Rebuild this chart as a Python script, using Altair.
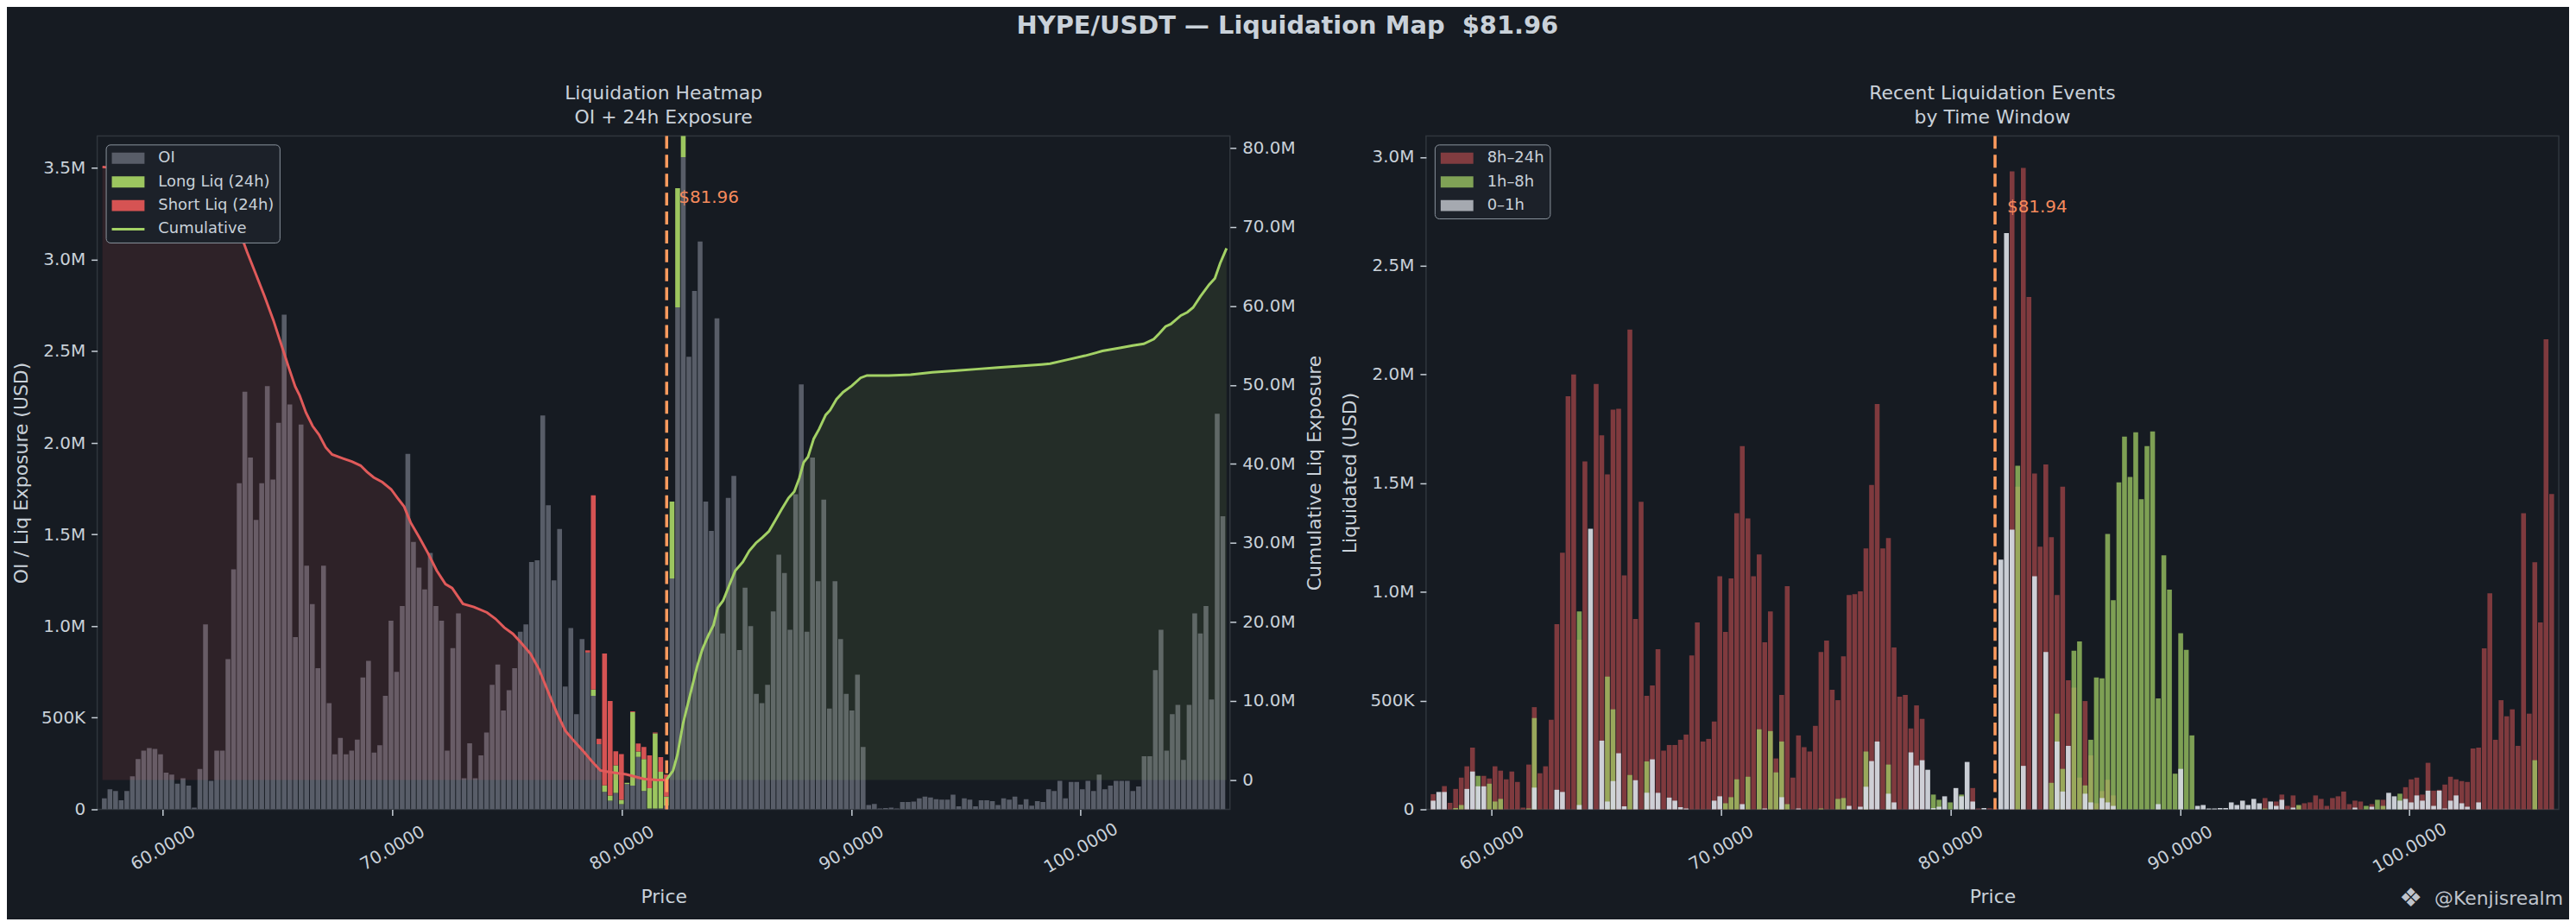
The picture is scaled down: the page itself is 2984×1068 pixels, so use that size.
import altair as alt
import pandas as pd

# ---------------- data ----------------
PRICE_LO, PRICE_HI, N_BINS = 57.33, 106.32, 200
BIN_W = (PRICE_HI - PRICE_LO) / N_BINS
BIN_PRICE = [round(PRICE_LO + BIN_W * (i + 0.5), 4) for i in range(N_BINS)]

PRICE_LEFT = 81.96
PRICE_RIGHT = 81.94

# Left panel: open interest per price bin (millions USD)
OI_M = [
    0.06, 0.11, 0.10, 0.05, 0.10, 0.18, 0.275, 0.32, 0.335, 0.33,
    0.30, 0.20, 0.19, 0.14, 0.17, 0.13, 0.01, 0.22, 1.01, 0.155,
    0.32, 0.32, 0.82, 1.31, 1.78, 2.28, 1.92, 1.58, 1.78, 2.31,
    1.80, 2.11, 2.70, 2.21, 0.94, 2.10, 1.33, 1.12, 0.77, 1.33,
    0.58, 0.30, 0.39, 0.30, 0.32, 0.38, 0.72, 0.81, 0.31, 0.35,
    0.62, 1.03, 0.75, 1.11, 1.94, 1.46, 1.32, 1.20, 1.40, 1.11,
    1.03, 0.32, 0.88, 1.07, 0.17, 0.36, 0.17, 0.295, 0.42, 0.68,
    0.79, 0.54, 0.65, 0.77, 0.97, 1.01, 1.35, 1.36, 2.15, 1.66,
    1.25, 1.53, 0.67, 0.99, 0.52, 0.93, 0.856, 0.62, 0.356, 0.095,
    0.047, 0.09, 0.028, 0.138, 0.13, 0.286, 0.10, 0.005, 0.005, 0.005,
    0.02, 1.26, 2.74, 3.56, 2.47, 2.83, 3.10, 1.68, 1.52, 2.68,
    0.96, 1.70, 1.82, 0.87, 1.21, 1.00, 0.63, 0.58, 0.68, 1.08,
    1.39, 1.29, 0.98, 1.72, 2.32, 0.97, 1.92, 1.245, 1.69, 0.55,
    1.245, 0.93, 0.63, 0.54, 0.735, 0.34, 0.024, 0.03, 0.005, 0.007,
    0.01, 0.005, 0.04, 0.04, 0.043, 0.06, 0.07, 0.065, 0.055, 0.053,
    0.053, 0.08, 0.017, 0.06, 0.053, 0.017, 0.05, 0.05, 0.045, 0.024,
    0.06, 0.053, 0.07, 0.026, 0.055, 0.02, 0.045, 0.04, 0.11, 0.10,
    0.156, 0.06, 0.15, 0.15, 0.11, 0.156, 0.10, 0.19, 0.11, 0.13,
    0.156, 0.156, 0.156, 0.10, 0.125, 0.29, 0.29, 0.76, 0.98, 0.32,
    0.52, 0.57, 0.27, 0.57, 1.07, 0.96, 1.11, 0.60, 2.16, 1.60,
]
LONG_BINS = [87, 89, 90, 91, 92, 93, 94, 95, 96, 97, 98, 99, 100, 101, 102, 103]
LONG_M = [0.034, 0.036, 0.029, 0.15, 0.024, 0.007, 0.40, 0.03, 0.175, 0.11, 0.41, 0.20, 0.05, 0.42, 0.65, 0.30]
SHORT_BINS = [86, 87, 88, 89, 90, 91, 92, 94, 95, 96, 97, 98, 99, 100]
SHORT_M = [0.012, 1.06, 0.029, 0.72, 0.515, 0.077, 0.25, 0.005, 0.043, 0.065, 0.18, 0.005, 0.08, 0.12]

SHORT_CUM_PRICE = [57.37, 58.17, 58.64, 59.12, 59.50, 60.07, 60.64, 61.21, 61.59, 61.87, 62.16, 62.63,
                   63.01, 63.40, 63.68, 64.06, 64.44, 64.82, 65.20, 65.48, 65.77, 65.96, 66.24, 66.53,
                   66.81, 67.10, 67.38, 67.86, 68.24, 68.62, 68.90, 69.19, 69.57, 69.95, 70.23, 70.52,
                   70.80, 71.18, 71.56, 71.94, 72.32, 72.61, 73.08, 73.56, 74.13, 74.50, 74.88, 75.26,
                   75.64, 76.02, 76.40, 76.79, 77.17, 77.55, 77.93, 78.31, 78.69, 79.07, 79.45, 80.20,
                   80.96, 81.53, 81.91]
SHORT_CUM_M = [77.6, 77.4, 77.0, 76.5, 76.1, 75.4, 74.9, 74.5, 74.4, 73.9, 73.2, 72.7,
               71.8, 69.0, 66.8, 64.0, 61.2, 58.2, 54.8, 52.3, 49.8, 48.7, 46.5, 44.8,
               43.7, 42.1, 41.2, 40.7, 40.3, 39.8, 39.0, 38.3, 37.7, 36.8, 35.7, 34.6,
               32.6, 30.7, 28.7, 26.5, 24.8, 24.3, 22.3, 21.9, 21.2, 20.4, 19.3, 18.5,
               17.3, 16.0, 14.0, 11.2, 8.5, 6.2, 4.9, 3.7, 2.4, 1.2, 1.0, 0.7,
               0.13, 0.0, 0.0]
LONG_CUM_PRICE = [81.95, 82.24, 82.43, 82.67, 83.00, 83.28, 83.51, 83.76, 84.00, 84.19, 84.42, 84.71,
                  84.95, 85.28, 85.56, 85.85, 86.13, 86.42, 86.70, 86.98, 87.27, 87.52, 87.74, 87.93,
                  88.12, 88.37, 88.60, 88.89, 89.08, 89.36, 89.65, 90.03, 90.41, 90.69, 91.64, 92.59,
                  93.54, 94.49, 95.44, 96.39, 97.34, 98.29, 98.67, 99.43, 100.19, 100.95, 101.71, 102.27,
                  102.75, 103.19, 103.42, 103.70, 103.93, 104.37, 104.65, 104.90, 105.22, 105.60, 105.85,
                  106.08, 106.36]
LONG_CUM_M = [0.0, 1.2, 3.2, 7.1, 11.0, 14.3, 16.5, 18.2, 19.6, 21.8, 22.7, 24.8,
              26.5, 27.6, 29.0, 30.0, 30.7, 31.5, 32.9, 34.3, 35.7, 36.5, 38.2, 40.2,
              40.9, 43.2, 44.4, 46.2, 46.8, 48.2, 49.1, 49.9, 50.9, 51.2, 51.2, 51.3,
              51.6, 51.8, 52.0, 52.2, 52.4, 52.6, 52.7, 53.2, 53.7, 54.3, 54.7, 55.0,
              55.2, 55.8, 56.5, 57.4, 57.7, 58.8, 59.2, 59.8, 61.2, 62.7, 63.5, 65.4, 67.3]

# Right panel: liquidated per bin by time window (millions USD)
R_8_24_M = [
    0.07, 0, 0.107, 0.03, 0.094, 0.146, 0.198, 0.284, 0, 0.154,
    0.142, 0.198, 0.178, 0.138, 0.174, 0.126, 0.008, 0.206, 0.470, 0.166,
    0.198, 0.412, 0.852, 1.180, 1.900, 2.000, 0.780, 1.600, 0, 1.956,
    1.720, 1.540, 1.838, 1.842, 1.076, 2.206, 0.875, 1.414, 0.522, 0.570,
    0.736, 0.270, 0.296, 0.296, 0.320, 0.344, 0.708, 0.860, 0.312, 0.324,
    0.404, 1.072, 0.816, 1.062, 1.362, 1.670, 1.338, 1.072, 1.172, 0.768,
    0.910, 0.234, 0.526, 1.026, 0.146, 0.340, 0.286, 0.266, 0.384, 0.724,
    0.776, 0.550, 0.502, 0.704, 0.986, 0.990, 1.002, 1.200, 1.492, 1.864,
    1.200, 1.248, 0.744, 0.518, 0.526, 0.372, 0.478, 0.416, 0, 0,
    0, 0, 0, 0, 0, 0, 0.098, 0.004, 0, 0.005,
    0.004, 0, 0, 2.934, 1.484, 2.950, 2.356, 1.544, 1.208, 1.586,
    1.252, 0.986, 1.484, 0.594, 0.560, 0.146, 0.498, 0.248, 0.028, 0.084,
    0.136, 0.064, 0, 0, 0, 0, 0, 0, 0, 0,
    0, 0, 0, 0, 0, 0, 0, 0, 0, 0,
    0, 0, 0, 0, 0, 0, 0, 0, 0.052, 0,
    0.036, 0.068, 0.016, 0.064, 0.016, 0.028, 0.032, 0.064, 0.048, 0.016,
    0.052, 0.060, 0.082, 0.024, 0.040, 0.036, 0, 0.024, 0, 0.044,
    0, 0, 0, 0.102, 0.138, 0.146, 0.068, 0.214, 0.086, 0.090,
    0.114, 0.150, 0.138, 0.130, 0.126, 0.280, 0.284, 0.740, 0.994, 0.320,
    0.502, 0.428, 0.460, 0.292, 1.362, 0.440, 1.136, 0.860, 2.162, 1.450,
]
G_1_8_M = [
    0, 0, 0, 0, 0.006, 0.02, 0, 0, 0.154, 0,
    0.118, 0.036, 0.048, 0, 0, 0, 0, 0.004, 0.420, 0,
    0, 0, 0, 0, 0, 0, 0.910, 0, 0, 0,
    0, 0.610, 0.460, 0, 0, 0.158, 0, 0, 0.220, 0,
    0, 0, 0, 0, 0, 0, 0, 0, 0, 0,
    0, 0, 0.028, 0.056, 0.138, 0, 0.150, 0, 0.368, 0,
    0.360, 0.170, 0.312, 0.024, 0, 0, 0, 0, 0, 0.004,
    0, 0, 0.048, 0.052, 0, 0, 0, 0.266, 0, 0,
    0, 0.206, 0, 0, 0, 0, 0, 0, 0, 0.068,
    0.044, 0, 0.032, 0, 0.068, 0, 0, 0, 0, 0,
    0, 0, 0, 0, 1.580, 0, 0, 0, 0, 0,
    0.122, 0.440, 0.186, 0, 0.730, 0.772, 0.110, 0.320, 0.606, 0.602,
    1.266, 0.962, 1.504, 1.714, 1.528, 1.734, 1.426, 1.670, 1.738, 0.510,
    1.168, 1.010, 0.164, 0.810, 0.734, 0.340, 0, 0, 0, 0,
    0, 0, 0, 0, 0, 0, 0, 0, 0.004, 0,
    0, 0, 0, 0, 0.020, 0, 0, 0, 0, 0,
    0, 0, 0, 0, 0, 0, 0.016, 0, 0.044, 0.016,
    0, 0, 0.072, 0, 0, 0, 0, 0, 0, 0,
    0, 0, 0, 0, 0, 0, 0, 0, 0, 0,
    0, 0, 0, 0, 0, 0, 0.226, 0, 0, 0,
]
W_0_1_M = [
    0.04, 0.08, 0.08, 0, 0, 0, 0.094, 0.174, 0.106, 0.106,
    0, 0, 0, 0, 0, 0, 0, 0, 0.100, 0,
    0, 0, 0.090, 0.080, 0, 0, 0.020, 0, 1.290, 0,
    0.316, 0.036, 0.130, 0.258, 0.014, 0, 0.134, 0, 0.076, 0.230,
    0.076, 0, 0.054, 0.040, 0.010, 0.004, 0, 0, 0, 0,
    0.040, 0.060, 0, 0, 0, 0.024, 0, 0, 0, 0.004,
    0, 0, 0.056, 0, 0, 0.004, 0, 0, 0, 0,
    0, 0, 0, 0, 0.016, 0, 0.012, 0.104, 0.222, 0.312,
    0, 0.072, 0.032, 0, 0, 0.262, 0.202, 0.226, 0.182, 0.006,
    0.012, 0.060, 0, 0.098, 0.060, 0.218, 0.036, 0, 0.006, 0,
    0, 1.148, 2.650, 1.286, 0, 0.200, 0, 1.072, 0, 0.724,
    0, 0.312, 0.082, 0.292, 0, 0, 0.072, 0.032, 0, 0.052,
    0.032, 0.016, 0, 0, 0, 0, 0, 0, 0, 0.024,
    0, 0, 0, 0.186, 0, 0, 0.016, 0.020, 0.004, 0.004,
    0.006, 0.006, 0.032, 0.020, 0.040, 0.020, 0.048, 0.028, 0, 0.036,
    0.016, 0.044, 0, 0.008, 0, 0, 0, 0, 0, 0,
    0, 0, 0, 0, 0.008, 0, 0, 0.012, 0, 0,
    0.076, 0.060, 0.040, 0.048, 0.032, 0.064, 0.040, 0.086, 0.016, 0.086,
    0.004, 0.040, 0.064, 0.028, 0.012, 0, 0.032, 0, 0, 0,
    0, 0, 0, 0, 0, 0, 0, 0, 0, 0,
]

SERIES_L = ["OI", "Long Liq (24h)", "Short Liq (24h)", "Cumulative"]
SERIES_R = ["8h\u201324h", "1h\u20138h", "0\u20131h"]
X_TICKS = [60, 70, 80, 90, 100]

# ---------------- style ----------------
BG = "#161b22"
FG = "#c9d1d9"
FONT = "DejaVu Sans"
OI_COL = "#585d68"
LONG_COL = "#9cc65f"
SHORT_COL = "#d65353"
RED_LINE = "#e05a5a"
GREEN_LINE = "#a3d165"
ORANGE = "#ff9b5e"
ORANGE_TXT = "#f58a5c"
R_COLS = ["#a34548", "#a2cd66", "#d3d7de"]
R_OPAC = [0.75, 0.75, 0.95]
PATCH = "M-1.9,-0.65H1.9V0.65H-1.9Z"
LINEPATH = "M-1.9,-0.15H1.9V0.15H-1.9Z"
W, H = 1317, 783

FMT = ("datum.value == 0 ? '0' : (datum.value < 1e6 ? format(datum.value / 1000, '.0f') + 'K' "
       ": format(datum.value / 1e6, '.1f') + 'M')")
FMT_M = "datum.value == 0 ? '0' : format(datum.value / 1e6, '.1f') + 'M'"

# ---------------- tables ----------------
long_map = dict(zip(LONG_BINS, LONG_M))
short_map = dict(zip(SHORT_BINS, SHORT_M))
rows = []
for i, p in enumerate(BIN_PRICE):
    rows.append({"price": p, "series": "OI", "value": OI_M[i] * 1e6, "ord": 0})
    rows.append({"price": p, "series": "Long Liq (24h)", "value": long_map.get(i, 0) * 1e6, "ord": 1})
    rows.append({"price": p, "series": "Short Liq (24h)", "value": short_map.get(i, 0) * 1e6, "ord": 2})
df_left = pd.DataFrame(rows)

df_short_cum = pd.DataFrame({"price": SHORT_CUM_PRICE, "cum": [v * 1e6 for v in SHORT_CUM_M]})
df_long_cum = pd.DataFrame({"price": LONG_CUM_PRICE, "cum": [v * 1e6 for v in LONG_CUM_M]})

rrows = []
for s, arr in zip(SERIES_R, [R_8_24_M, G_1_8_M, W_0_1_M]):
    for i, p in enumerate(BIN_PRICE):
        if arr[i] > 0:
            rrows.append({"price": p, "window": s, "value": arr[i] * 1e6})
df_right = pd.DataFrame(rrows)

# ---------------- shared encodings ----------------
x_scale = alt.Scale(domain=[PRICE_LO, PRICE_HI], nice=False, zero=False)
x_axis = alt.Axis(values=X_TICKS, format=".4f", labelAngle=-30, labelAlign="center",
                  labelBaseline="middle", labelPadding=38, title="Price", titlePadding=14)
X = alt.X("price:Q", scale=x_scale, axis=x_axis)

yl_scale = alt.Scale(domain=[0, 3.676e6], nice=False, zero=True)
yl_axis = alt.Axis(values=[0, 5e5, 1e6, 1.5e6, 2e6, 2.5e6, 3e6, 3.5e6], labelExpr=FMT,
                   title="OI / Liq Exposure (USD)", titlePadding=11)
yc_scale = alt.Scale(domain=[-3.72e6, 81.53e6], nice=False, zero=False)
yc_axis = alt.Axis(orient="right", values=[i * 1e7 for i in range(9)], labelExpr=FMT_M,
                   title="Cumulative Liq Exposure", titleAngle=270, titleBaseline="top",
                   titlePadding=12)
yr_scale = alt.Scale(domain=[0, 3.097e6], nice=False, zero=True)
yr_axis = alt.Axis(values=[0, 5e5, 1e6, 1.5e6, 2e6, 2.5e6, 3e6], labelExpr=FMT,
                   title="Liquidated (USD)", titlePadding=11)

leg_common = dict(orient="top-left", title=None, offset=10, padding=6, labelFontSize=18,
                  labelColor=FG, fillColor="#1c2129", strokeColor="#8b949e", cornerRadius=5,
                  symbolSize=400, rowPadding=8.5, symbolOffset=10, labelOffset=25,
                  symbolStrokeWidth=0)
leg_L = alt.Legend(**leg_common)
leg_R = alt.Legend(symbolType=PATCH, **leg_common)

color_L = alt.Scale(domain=SERIES_L, range=[OI_COL, LONG_COL, SHORT_COL, GREEN_LINE])
shape_L = alt.Scale(domain=SERIES_L, range=[PATCH, PATCH, PATCH, LINEPATH])
color_R = alt.Scale(domain=SERIES_R, range=R_COLS)

# ---------------- left panel ----------------
bars_L = alt.Chart(df_left).mark_bar(size=5.6, clip=True).encode(
    x=X,
    y=alt.Y("value:Q", stack="zero", scale=yl_scale, axis=yl_axis),
    color=alt.Color("series:N", scale=color_L, legend=leg_L),
    order=alt.Order("ord:Q"),
)
legend_pts = alt.Chart(pd.DataFrame({"series": SERIES_L})).transform_filter("false").mark_point(
    filled=True, opacity=1).encode(
    color=alt.Color("series:N", scale=color_L, legend=leg_L),
    shape=alt.Shape("series:N", scale=shape_L, legend=leg_L),
)
label_L = alt.Chart(pd.DataFrame({"price": [PRICE_LEFT], "value": [3.34e6], "label": ["$81.96"]})).mark_text(
    align="left", baseline="middle", dx=14, fontSize=20, color=ORANGE_TXT).encode(
    x=X, y=alt.Y("value:Q", scale=yl_scale, axis=yl_axis), text="label:N")
left_main = alt.layer(bars_L, legend_pts, label_L)

YC = alt.Y("cum:Q", scale=yc_scale, axis=yc_axis)
short_area = alt.Chart(df_short_cum).mark_area(color=RED_LINE, opacity=0.12, clip=True).encode(
    x=X, y=YC, y2=alt.datum(0))
short_line = alt.Chart(df_short_cum).mark_line(color=RED_LINE, strokeWidth=3, clip=True).encode(x=X, y=YC)
long_area = alt.Chart(df_long_cum).mark_area(color=GREEN_LINE, opacity=0.10, clip=True).encode(
    x=X, y=YC, y2=alt.datum(0))
long_line = alt.Chart(df_long_cum).mark_line(color=GREEN_LINE, strokeWidth=3, clip=True).encode(x=X, y=YC)
cum_layer = alt.layer(short_area, long_area, short_line, long_line)

rule_L = alt.Chart(pd.DataFrame({"price": [PRICE_LEFT]})).mark_rule(
    color=ORANGE, strokeWidth=3.5, strokeDash=[15, 7]).encode(x=X)

left = alt.layer(left_main, cum_layer, rule_L).resolve_scale(y="independent").properties(
    width=W, height=H,
    title=alt.TitleParams(["Liquidation Heatmap", "OI + 24h Exposure"], fontSize=22,
                          fontWeight="normal", lineHeight=28, offset=8, anchor="middle", color=FG),
)

# ---------------- right panel ----------------
YR = alt.Y("value:Q", stack=None, scale=yr_scale, axis=yr_axis)
r_layers = []
for s, op in zip(SERIES_R, R_OPAC):
    r_layers.append(
        alt.Chart(df_right).transform_filter(alt.datum.window == s).mark_bar(size=5.6, opacity=op).encode(
            x=X, y=YR, color=alt.Color("window:N", scale=color_R, legend=leg_R))
    )
rule_R = alt.Chart(pd.DataFrame({"price": [PRICE_RIGHT]})).mark_rule(
    color=ORANGE, strokeWidth=3.5, strokeDash=[15, 7]).encode(x=X)
label_R = alt.Chart(pd.DataFrame({"price": [PRICE_RIGHT], "value": [2.768e6], "label": ["$81.94"]})).mark_text(
    align="left", baseline="middle", dx=14, fontSize=20, color=ORANGE_TXT).encode(
    x=X, y=YR, text="label:N")
wm_text = alt.Chart(pd.DataFrame({"t": ["@Kenjisrealm"]})).mark_text(
    align="right", baseline="alphabetic", fontSize=22, color="#bfc4cc").encode(
    x=alt.value(W + 5), y=alt.value(H + 111), text="t:N")
wm_logo = alt.Chart(pd.DataFrame({"t": ["\u2756"]})).mark_text(
    align="center", baseline="middle", fontSize=30, color="#bfc4cc").encode(
    x=alt.value(W - 172), y=alt.value(H + 104), text="t:N")

right = alt.layer(*r_layers, rule_R, label_R, wm_text, wm_logo).properties(
    width=W, height=H,
    title=alt.TitleParams(["Recent Liquidation Events", "by Time Window"], fontSize=22,
                          fontWeight="normal", lineHeight=28, offset=8, anchor="middle", color=FG),
)

chart = alt.hconcat(left, right, spacing=17).resolve_scale(
    color="independent", shape="independent"
).resolve_legend(
    color="independent", shape="independent"
).properties(
    title=alt.TitleParams("HYPE/USDT \u2014 Liquidation Map \u00a0$81.96", fontSize=29, fontWeight="bold",
                          color=FG, anchor="middle", offset=51),
).configure(
    background=BG, font=FONT, padding={"left": 4, "top": 6, "right": 6, "bottom": 6},
).configure_view(
    stroke="#30363d", strokeWidth=1.5,
).configure_axis(
    labelColor=FG, titleColor=FG, tickColor=FG, labelFontSize=20, titleFontSize=22,
    titleFontWeight="normal", grid=False, domain=False, tickSize=7, tickWidth=1.5,
    labelPadding=7, labelFont=FONT, titleFont=FONT,
).configure_title(
    font=FONT,
).configure_legend(
    labelFont=FONT,
)

chart.save("out.html", embed_options={"renderer": "svg", "actions": False})
